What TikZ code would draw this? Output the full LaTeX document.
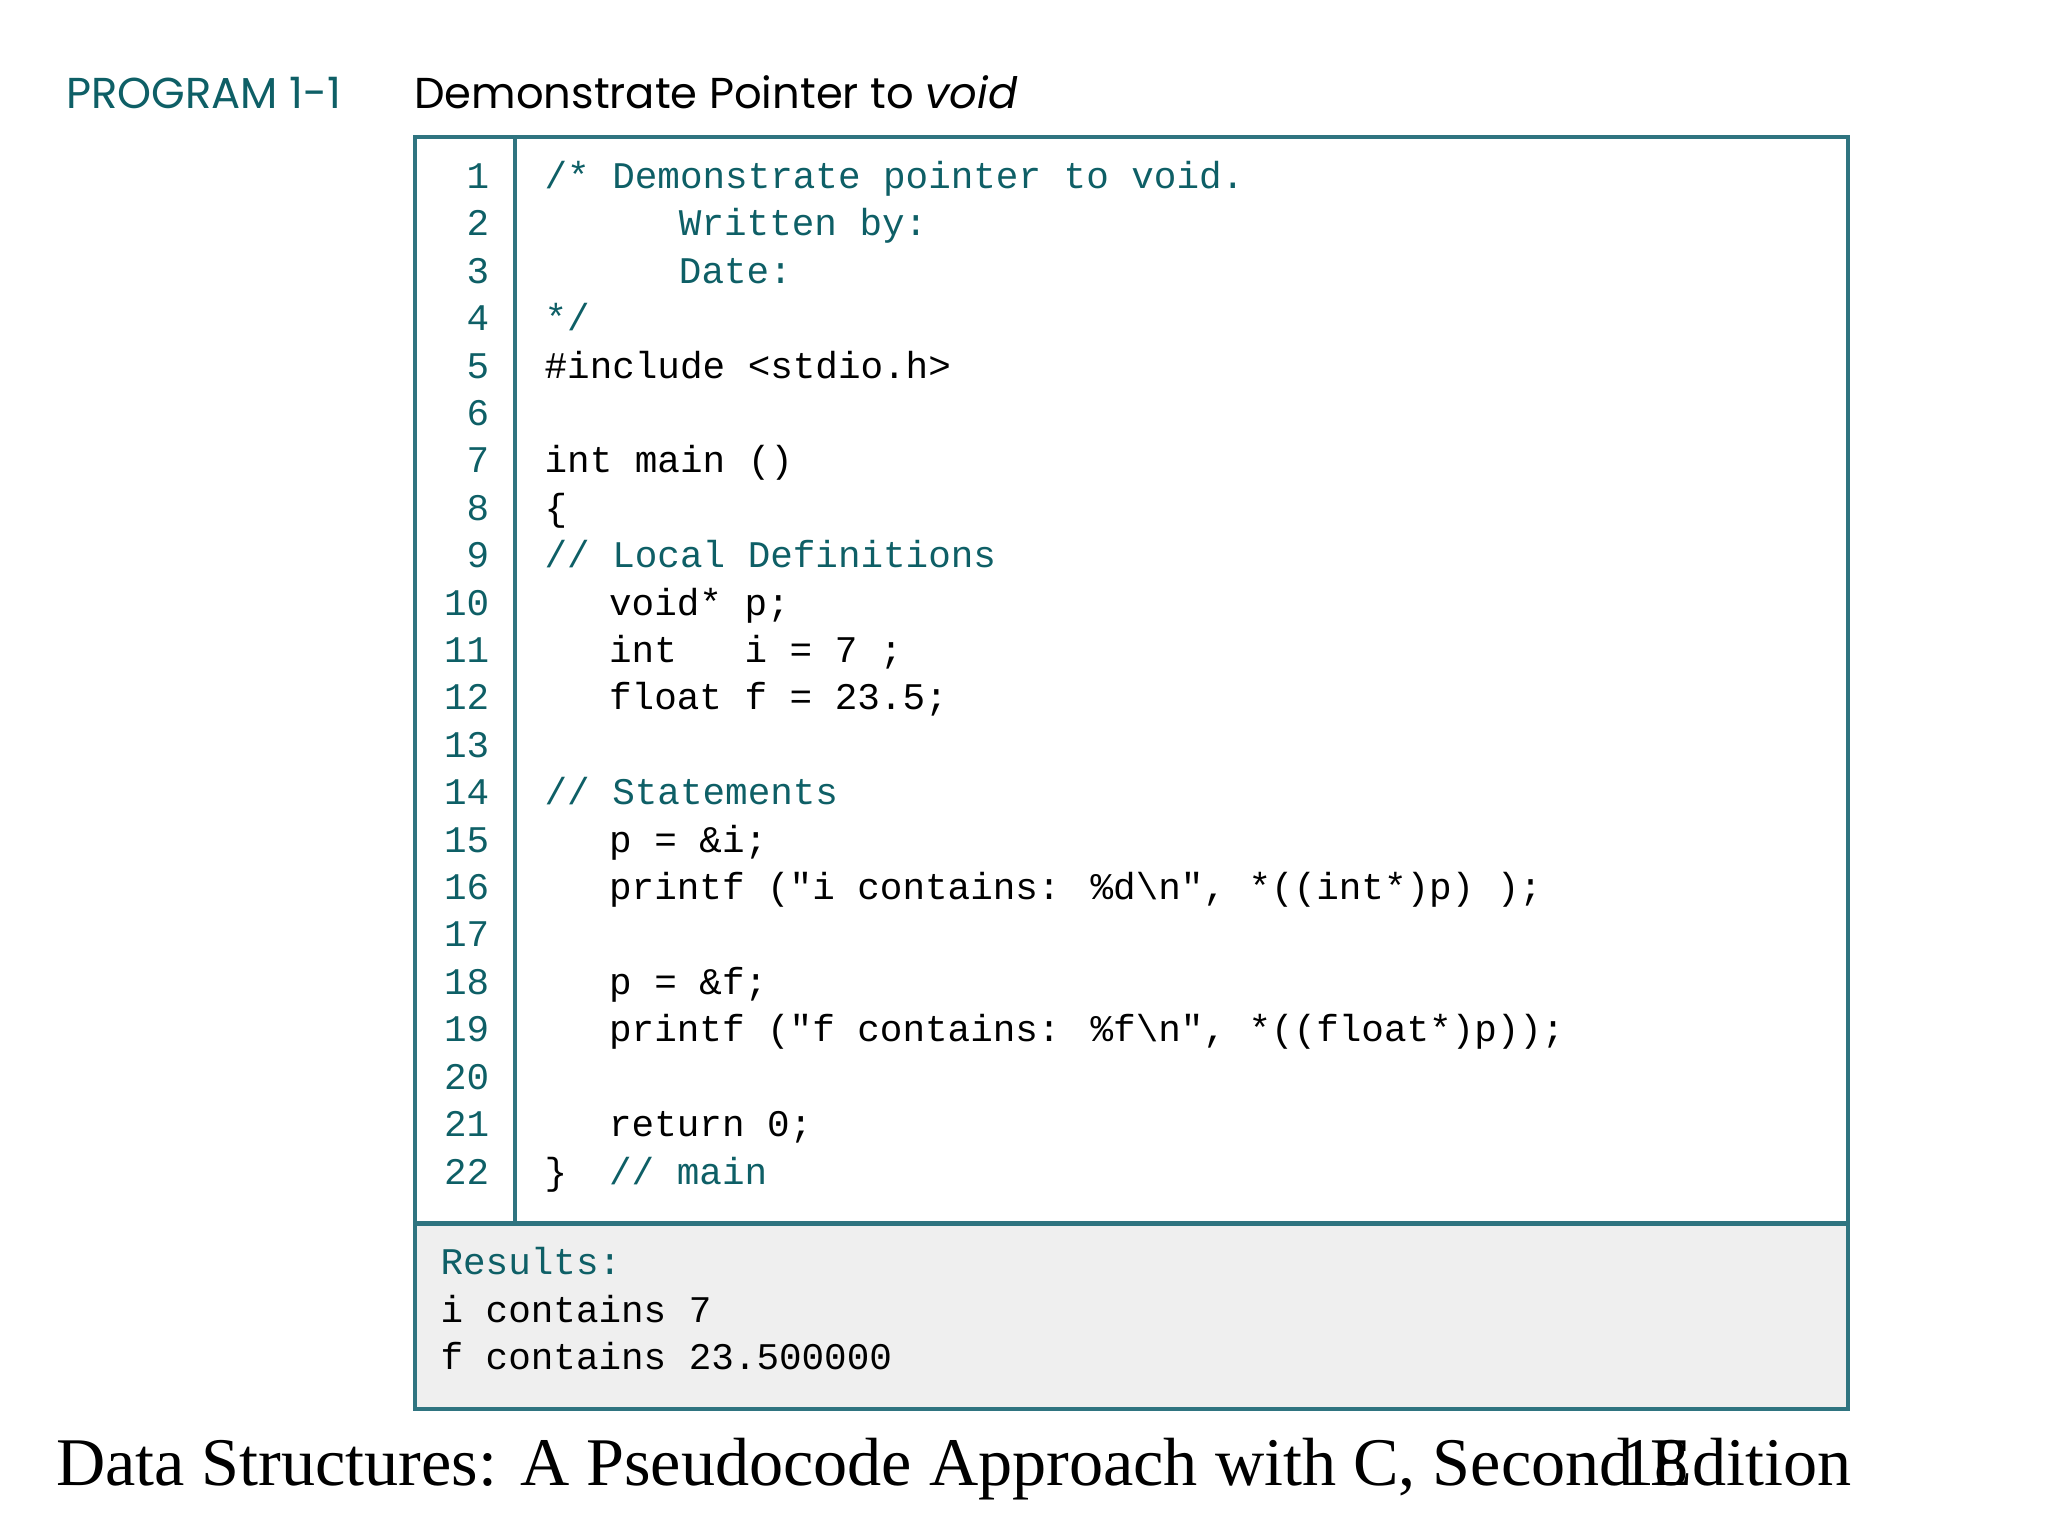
\documentclass[tikz,border=0pt]{standalone}
\usepackage{fontspec}
\setmainfont{Liberation Serif}
\newfontfamily\codef{Liberation Mono}
\newfontfamily\titlef{Poppins}
\definecolor{teal1}{HTML}{0E5F66}
\definecolor{bord}{HTML}{2F7480}
\definecolor{resbg}{HTML}{EFEFEF}
\begin{document}
\begin{tikzpicture}[x=0.01317cm,y=-0.01317cm,
  code/.style={anchor=base west,inner sep=0,font=\codef\fontsize{10.7pt}{12pt}\selectfont},
  cmt/.style={code,text=teal1},
  num/.style={anchor=base east,inner sep=0,font=\codef\fontsize{10.7pt}{12pt}\selectfont,text=teal1}]
\useasboundingbox (0,0) rectangle (1555,1166);
\fill[resbg] (315,929) rectangle (1403,1070);
\draw[bord,line width=1.2pt] (315,104) rectangle (1403,1070);
\draw[bord,line width=1.2pt] (315,929) -- (1403,929);
\draw[bord,line width=1.2pt] (391,104) -- (391,929);
\node[anchor=base west,inner sep=0,text=teal1,font=\titlef\fontsize{12.3pt}{15pt}\selectfont] (t1) at (50,82) {PROGRAM 1-1};
\node[anchor=base west,inner sep=0,font=\titlef\fontsize{12.3pt}{15pt}\selectfont] (t2) at (314,82) {Demonstrate Pointer to \textit{void}};
\foreach \i in {1,...,22} { \node[num] (n\i) at (372,{135+36*(\i-1)+8}) {\i}; }
\def\L#1{143+36*(#1-1)}
\node[cmt] (c1) at (413,{\L1}) {/* Demonstrate pointer to void.};
\node[cmt] (c2) at (515,{\L2}) {Written by:};
\node[cmt] (c3) at (515,{\L3}) {Date:};
\node[cmt] (c4) at (413,{\L4}) {*/};
\node[code] (c5) at (413,{\L5}) {\#include <stdio.h>};
\node[code] (c7) at (413,{\L7}) {int main ()};
\node[code] (c8) at (413,{\L8}) {\{};
\node[cmt] (c9) at (413,{\L9}) {// Local Definitions};
\node[code] (c10) at (462,{\L{10}}) {void* p;};
\node[code] (c11) at (462,{\L{11}}) {int\ \ \ i = 7 ;};
\node[code] (c12) at (462,{\L{12}}) {float f = 23.5;};
\node[cmt] (c14) at (413,{\L{14}}) {// Statements};
\node[code] (c15) at (462,{\L{15}}) {p = \&i;};
\node[code] (c16) at (462,{\L{16}}) {printf ("i contains: \%d\textbackslash n", *((int*)p) );};
\node[code] (c18) at (462,{\L{18}}) {p = \&f;};
\node[code] (c19) at (462,{\L{19}}) {printf ("f contains: \%f\textbackslash n", *((float*)p));};
\node[code] (c21) at (462,{\L{21}}) {return 0;};
\node[code] (c22) at (413,{\L{22}}) {\}};
\node[cmt] (c22b) at (462,{\L{22}}) {// main};
\node[cmt] (r1) at (334,968) {Results:};
\node[code] (r2) at (334,1004) {i contains 7};
\node[code] (r3) at (334,1040) {f contains 23.500000};
\node[anchor=base west,inner sep=0,font=\fontsize{19.4pt}{22pt}\selectfont] (ft) at (42,1128) {Data Structures: A Pseudocode Approach with C, Second Edition};
\node[anchor=base west,inner sep=0,font=\fontsize{19.4pt}{22pt}\selectfont] (pg) at (1230,1128) {18};
\end{tikzpicture}
\end{document}
